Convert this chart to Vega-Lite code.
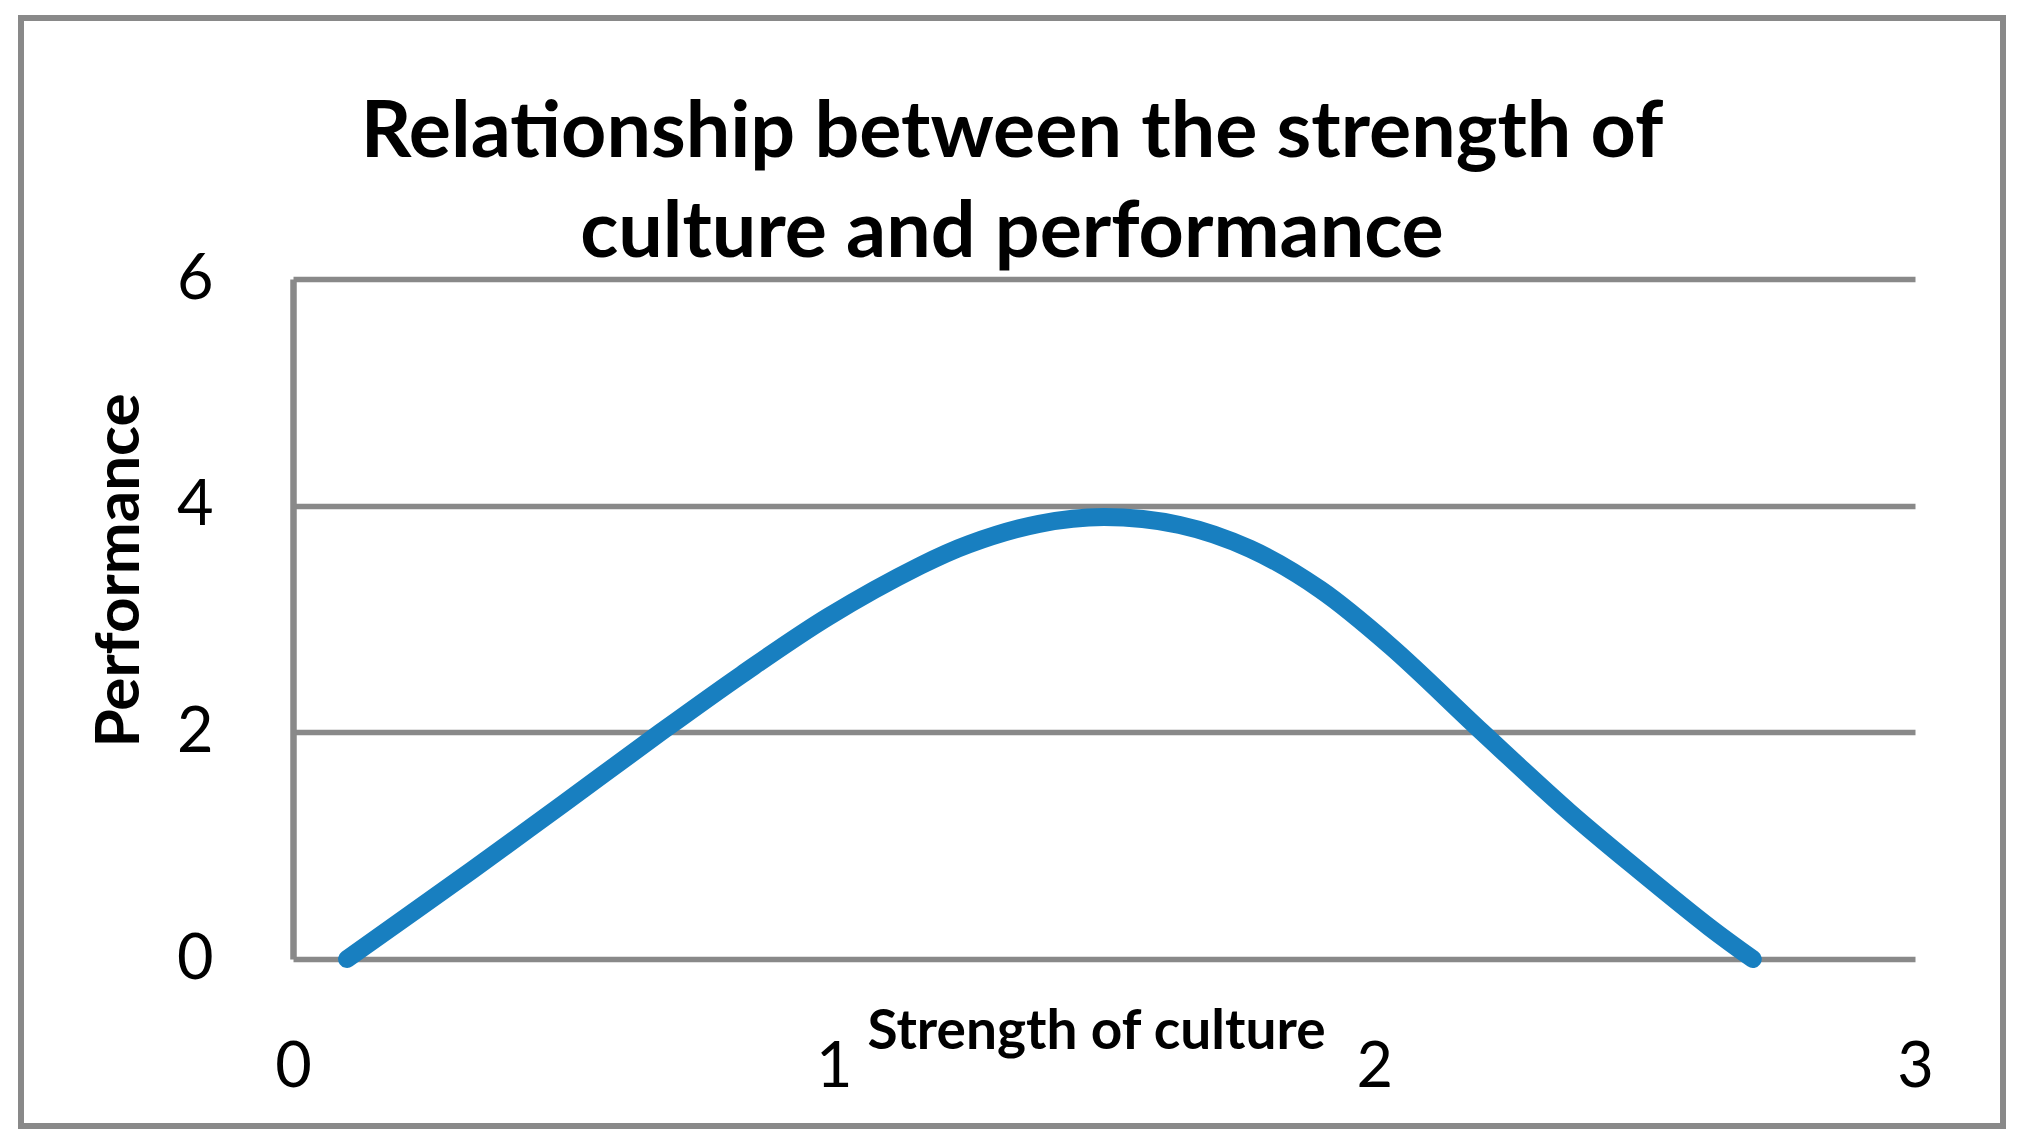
{
  "$schema": "https://vega.github.io/schema/vega-lite/v6.json",
  "autosize": "none",
  "width": 1982,
  "height": 1108,
  "padding": {"left": 21, "top": 18, "right": 21, "bottom": 20},
  "background": "white",
  "config": {
    "view": {"stroke": "#898989", "strokeWidth": 6},
    "font": "Lato"
  },
  "title": {
    "text": ["Relationship between the strength of", "culture and performance"],
    "anchor": "middle",
    "frame": "group",
    "orient": "top",
    "offset": -256,
    "font": "Lato",
    "fontSize": 79,
    "fontWeight": "bold",
    "color": "#000000",
    "lineHeight": 100
  },
  "data": {
    "values": [
      {"strength": 0.1, "performance": 0.0},
      {"strength": 0.33, "performance": 0.78},
      {"strength": 0.5, "performance": 1.37},
      {"strength": 0.68, "performance": 2.0},
      {"strength": 0.83, "performance": 2.51},
      {"strength": 0.99, "performance": 3.02},
      {"strength": 1.16, "performance": 3.47},
      {"strength": 1.25, "performance": 3.66},
      {"strength": 1.38, "performance": 3.84},
      {"strength": 1.5, "performance": 3.9},
      {"strength": 1.64, "performance": 3.83},
      {"strength": 1.77, "performance": 3.62},
      {"strength": 1.9, "performance": 3.26},
      {"strength": 2.03, "performance": 2.76},
      {"strength": 2.2, "performance": 2.0},
      {"strength": 2.36, "performance": 1.3},
      {"strength": 2.49, "performance": 0.78},
      {"strength": 2.62, "performance": 0.28},
      {"strength": 2.7, "performance": 0.0}
    ]
  },
  "mark": {
    "type": "line",
    "interpolate": "catmull-rom",
    "color": "#187FC0",
    "strokeWidth": 18,
    "strokeCap": "round",
    "strokeJoin": "round",
    "clip": false
  },
  "encoding": {
    "x": {
      "field": "strength",
      "type": "quantitative",
      "scale": {"domain": [0, 3], "range": [272, 1894], "nice": false, "zero": false},
      "axis": {
        "orient": "bottom",
        "offset": -167,
        "values": [0, 1, 2, 3],
        "grid": false,
        "ticks": false,
        "domain": false,
        "labelFlush": false,
        "labelOverlap": false,
        "labelFont": "Lato",
        "labelFontSize": 63,
        "labelColor": "#000000",
        "labelPadding": 77,
        "labelBaseline": "top",
        "title": "Strength of culture",
        "titleFont": "Lato",
        "titleFontSize": 55,
        "titleFontWeight": "bold",
        "titleColor": "#000000",
        "titleX": 1075,
        "titleY": 72,
        "titleAlign": "center",
        "titleBaseline": "middle"
      }
    },
    "y": {
      "field": "performance",
      "type": "quantitative",
      "scale": {"domain": [0, 6], "range": [941, 261], "nice": false, "zero": false},
      "axis": {
        "orient": "left",
        "offset": -272,
        "values": [0, 2, 4, 6],
        "grid": true,
        "gridColor": "#898989",
        "gridWidth": 5.5,
        "gridOpacity": 1,
        "domain": true,
        "domainColor": "#898989",
        "domainWidth": 6.5,
        "ticks": false,
        "labelFont": "Lato",
        "labelFontSize": 63,
        "labelColor": "#000000",
        "labelPadding": 80,
        "title": "Performance",
        "titleFont": "Lato",
        "titleFontSize": 62,
        "titleFontWeight": "bold",
        "titleColor": "#000000",
        "titleAngle": 270,
        "titleX": -174,
        "titleY": 552,
        "titleAlign": "center",
        "titleBaseline": "middle"
      }
    }
  }
}
